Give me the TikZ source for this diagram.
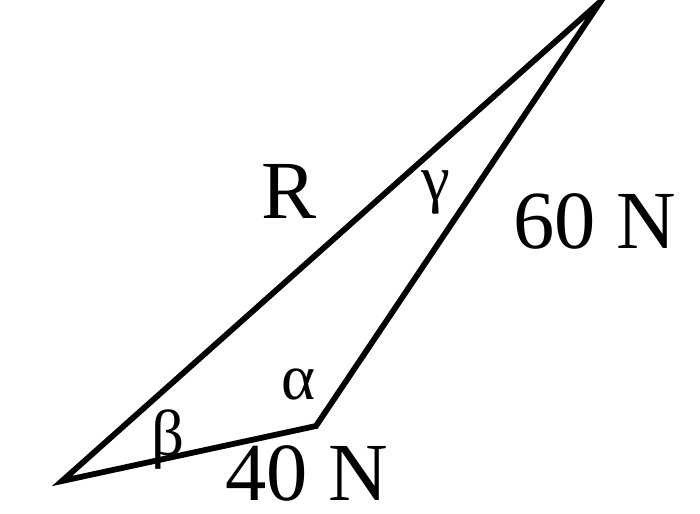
\documentclass[tikz,border=0pt]{standalone}
\usepackage{fontspec}
\setmainfont{Liberation Serif}
\tikzset{
  force/.style={line width=3.3pt, line join=miter},
  biglabel/.style={inner sep=0pt, font=\fontsize{47}{50}\selectfont},
  anglelabel/.style={inner sep=0pt, font=\fontsize{37}{40}\selectfont}
}
\begin{document}
\begin{tikzpicture}[x=0.02cm, y=-0.02cm]
  \useasboundingbox (0, 0) rectangle (700, 514);
  % corners of the force triangle
  \coordinate (tail) at (62, 481);
  \coordinate (mid) at (316, 426);
  \coordinate (tip) at (601, 1);
  \draw [force] (tail) -- (mid) -- (tip) -- cycle;
  % forces
  \node [biglabel] (r) at (289, 191) {R};
  \node [biglabel] (f60) at (595, 221) {60 N};
  \node [biglabel] (f40) at (307, 473) {40 N};
  % angles
  \node [anglelabel] (gamma) at (436, 192) {γ};
  \node [anglelabel] (alpha) at (299, 384) {α};
  \node [anglelabel] (beta) at (168, 440) {β};
\end{tikzpicture}
\end{document}
